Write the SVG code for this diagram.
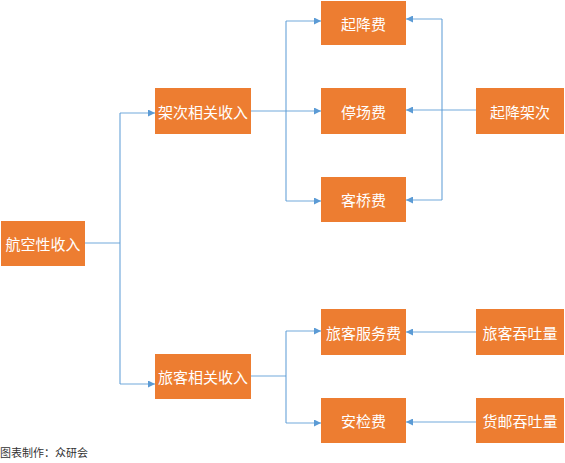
<svg xmlns="http://www.w3.org/2000/svg" width="565" height="463" viewBox="0 0 565 463">
<style>
.box{fill:#ED7D31}
.lbl{fill:#fff;font-family:"Noto Sans CJK SC","Noto Sans",sans-serif;font-size:15px;text-anchor:middle;dominant-baseline:central}
.ln{fill:none;stroke:#5B9BD5;stroke-width:1.2;stroke-opacity:0.85}
.note{fill:#333;font-family:"Noto Sans CJK SC","Noto Sans",sans-serif;font-size:11px}
</style>
<defs>
<marker id="ah" viewBox="0 0 10 10" refX="10" refY="5" markerWidth="7" markerHeight="7" markerUnits="userSpaceOnUse" orient="auto">
<path d="M0,0 L10,5 L0,10 z" fill="#5B9BD5"/>
</marker>
</defs>
<g id="connectors">
<path class="ln" d="M85,243 H120"/>
<path class="ln" d="M120,113 V384"/>
<path class="ln" d="M120,113 H155" marker-end="url(#ah)"/>
<path class="ln" d="M120,384 H155" marker-end="url(#ah)"/>
<path class="ln" d="M251,111 H286"/>
<path class="ln" d="M286,21 V201"/>
<path class="ln" d="M286,21 H321" marker-end="url(#ah)"/>
<path class="ln" d="M286,111 H321" marker-end="url(#ah)"/>
<path class="ln" d="M286,201 H321" marker-end="url(#ah)"/>
<path class="ln" d="M476,110 H406" marker-end="url(#ah)"/>
<path class="ln" d="M442,19 V200"/>
<path class="ln" d="M442,19 H406" marker-end="url(#ah)"/>
<path class="ln" d="M442,200 H406" marker-end="url(#ah)"/>
<path class="ln" d="M251,376 H286"/>
<path class="ln" d="M286,331 V423"/>
<path class="ln" d="M286,331 H321" marker-end="url(#ah)"/>
<path class="ln" d="M286,423 H321" marker-end="url(#ah)"/>
<path class="ln" d="M476,332 H406" marker-end="url(#ah)"/>
<path class="ln" d="M476,422 H406" marker-end="url(#ah)"/>
</g>
<g id="n-hkx"><rect class="box" x="1" y="221" width="84" height="45"/><text class="lbl" x="43" y="243.5">航空性收入</text></g>
<g id="n-jc"><rect class="box" x="155" y="88" width="96" height="46"/><text class="lbl" x="203" y="111">架次相关收入</text></g>
<g id="n-lk"><rect class="box" x="155" y="354" width="96" height="45"/><text class="lbl" x="203" y="376.5">旅客相关收入</text></g>
<g id="n-qjf"><rect class="box" x="321" y="1" width="85" height="44"/><text class="lbl" x="363.5" y="23">起降费</text></g>
<g id="n-tcf"><rect class="box" x="321" y="88" width="85" height="46"/><text class="lbl" x="363.5" y="111">停场费</text></g>
<g id="n-kqf"><rect class="box" x="321" y="177" width="85" height="45"/><text class="lbl" x="363.5" y="199.5">客桥费</text></g>
<g id="n-qjjc"><rect class="box" x="476" y="88" width="88" height="46"/><text class="lbl" x="520" y="111">起降架次</text></g>
<g id="n-lkfwf"><rect class="box" x="321" y="309" width="85" height="46"/><text class="lbl" x="363.5" y="332">旅客服务费</text></g>
<g id="n-ajf"><rect class="box" x="321" y="398" width="85" height="45"/><text class="lbl" x="363.5" y="420.5">安检费</text></g>
<g id="n-lkttl"><rect class="box" x="476" y="309" width="88" height="46"/><text class="lbl" x="520" y="332">旅客吞吐量</text></g>
<g id="n-hyttl"><rect class="box" x="476" y="398" width="88" height="45"/><text class="lbl" x="520" y="420.5">货邮吞吐量</text></g>
<text class="note" x="0" y="457">图表制作：众研会</text>
</svg>
